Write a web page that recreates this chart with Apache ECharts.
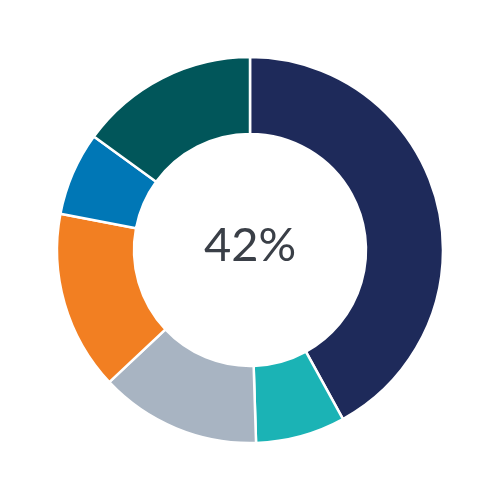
<!DOCTYPE html>
<html>
<head>
<meta charset="utf-8">
<script src="https://cdn.jsdelivr.net/npm/echarts@6/dist/echarts.min.js"></script>
<style>
  html, body { margin: 0; padding: 0; background: #fff; }
  #chart { width: 500px; height: 500px; }
</style>
</head>
<body>
<div id="chart"></div>
<script>
// slices, clockwise from 12 o'clock
const names = ['A', 'B', 'C', 'D', 'E', 'F']
const values = [42, 7.5, 13.5, 15, 7, 15]
const colors = ['#1e2a5a', '#1bb3b5', '#a8b4c2', '#f27f22', '#0077b6', '#01565a']
const centerLabel = '42%'

const chart = echarts.init(document.getElementById('chart'))

chart.setOption({
  animation: false,
  graphic: [{
    type: 'text',
    x: 250,
    y: 246,
    style: {
      text: centerLabel,
      align: 'center',
      verticalAlign: 'middle',
      fontFamily: 'Lato',
      fontWeight: 'normal',
      fontSize: 47,
      fill: '#3a3f47'
    }
  }],
  series: [{
    type: 'pie',
    center: [250, 250],
    radius: [116, 193],
    startAngle: 90,
    clockwise: true,
    label: { show: false },
    labelLine: { show: false },
    itemStyle: {
      borderColor: '#fff',
      borderWidth: 2.5
    },
    data: names.map((n, i) => ({
      name: n,
      value: values[i],
      itemStyle: { color: colors[i] }
    }))
  }]
})
</script>
</body>
</html>
